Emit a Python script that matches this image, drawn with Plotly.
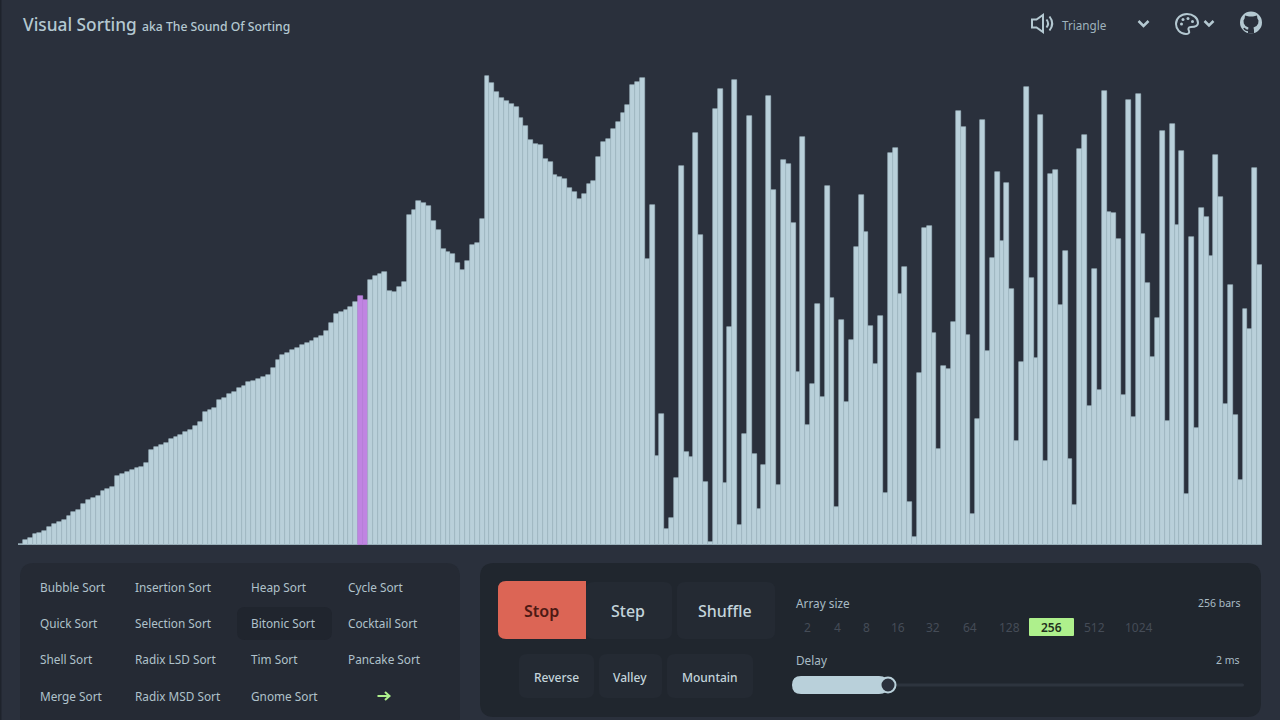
import plotly.graph_objects as go

BAR_VALUES = [
    1, 5, 7, 11, 12, 14, 18, 21, 23, 25,
    29, 33, 35, 41, 45, 47, 49, 54, 56, 58,
    69, 71, 73, 75, 77, 78, 82, 95, 98, 100,
    102, 106, 108, 110, 113, 115, 119, 123, 133, 135,
    137, 145, 147, 151, 153, 157, 159, 163, 164, 166,
    168, 170, 177, 185, 190, 192, 195, 197, 200, 202,
    204, 207, 209, 214, 222, 231, 233, 235, 238, 243,
    249, 245, 265, 269, 271, 273, 254, 253, 258, 263,
    330, 335, 344, 342, 339, 324, 315, 296, 293, 291,
    282, 275, 284, 300, 302, 326, 469, 462, 453, 447,
    444, 441, 438, 427, 419, 405, 401, 400, 386, 383,
    370, 368, 366, 357, 353, 346, 351, 361, 364, 388,
    403, 406, 416, 423, 432, 440, 460, 463, 467, 286,
    340, 89, 131, 16, 27, 67, 379, 93, 88, 412,
    310, 63, 3, 436, 456, 62, 218, 465, 20, 111,
    429, 91, 36, 80, 449, 355, 60, 385, 381, 322,
    173, 408, 120, 161, 241, 148, 359, 247, 38, 225,
    143, 205, 298, 350, 313, 219, 181, 229, 52, 392,
    397, 251, 278, 43, 8, 172, 317, 319, 212, 96,
    179, 176, 223, 434, 418, 210, 31, 126, 425, 194,
    287, 373, 304, 362, 256, 104, 183, 458, 267, 187,
    430, 84, 371, 375, 240, 294, 86, 40, 396, 410,
    139, 276, 155, 454, 333, 332, 306, 150, 445, 128,
    451, 311, 262, 188, 227, 414, 124, 421, 320, 394,
    51, 308, 117, 337, 328, 289, 390, 348, 141, 260,
    130, 65, 236, 216, 377, 280,
]
HIGHLIGHTED = [70, 71]

SORT_COL_1 = ["Bubble Sort", "Quick Sort", "Shell Sort", "Merge Sort"]
SORT_COL_2 = ["Insertion Sort", "Selection Sort", "Radix LSD Sort", "Radix MSD Sort"]
SORT_COL_3 = ["Heap Sort", "Bitonic Sort", "Tim Sort", "Gnome Sort"]
SORT_COL_4 = ["Cycle Sort", "Cocktail Sort", "Pancake Sort"]
ARRAY_SIZES = ["2", "4", "8", "16", "32", "64", "128", "256", "512", "1024"]
ACTIVE_SIZE = "256"

BG = "#2a303c"
PANEL_LEFT = "#252a34"
PANEL_RIGHT = "#20262e"
BTN = "#242a33"
BAR = "#b9d0da"
BAR_EDGE = "#a3bbc6"
PURPLE = "#c084e2"
GREEN = "#aef08c"
RED = "#dc6555"
TEXT = "#b4c8d1"
FONT = "Noto Sans"


def rrect(x0, y0, x1, y1, r=8, color=BTN, r_right=None):
    rr = r if r_right is None else r_right
    path = (
        f"M{x0 + r},{y0} L{x1 - rr},{y0} Q{x1},{y0} {x1},{y0 + rr} "
        f"L{x1},{y1 - rr} Q{x1},{y1} {x1 - rr},{y1} L{x0 + r},{y1} "
        f"Q{x0},{y1} {x0},{y1 - r} L{x0},{y0 + r} Q{x0},{y0} {x0 + r},{y0} Z"
    )
    return dict(type="path", path=path, fillcolor=color, line_width=0,
                xref="x2", yref="y2", layer="above")


def stroke(path, width=2, color=TEXT, fill="rgba(0,0,0,0)"):
    return dict(type="path", path=path, fillcolor=fill, xref="x2", yref="y2",
                line=dict(color=color, width=width), layer="above")


def circle(cx, cy, r, color, line=None, width=0):
    return dict(type="circle", x0=cx - r, x1=cx + r, y0=cy - r, y1=cy + r,
                xref="x2", yref="y2", fillcolor=color, layer="above",
                line=dict(color=line or color, width=width))


def label(x, y, text, size=12.5, color=TEXT, anchor="left", weight=400):
    # annotations carry about 2px of padding on their outer side
    shift = {"left": -2, "right": 2, "center": 0}[anchor]
    return dict(x=x + shift, y=y, xref="x2", yref="y2", text=text, showarrow=False,
                xanchor=anchor, yanchor="middle", align=anchor,
                font=dict(family=FONT, size=size, color=color, weight=weight))


colors = [PURPLE if i in HIGHLIGHTED else BAR for i in range(len(BAR_VALUES))]
edges = [PURPLE if i in HIGHLIGHTED else BAR_EDGE for i in range(len(BAR_VALUES))]

fig = go.Figure()
fig.add_trace(go.Bar(
    x=list(range(len(BAR_VALUES))), y=BAR_VALUES,
    marker=dict(color=colors, line=dict(color=edges, width=0.6)),
    showlegend=False, hoverinfo="skip",
))
# invisible trace so the pixel-sized axes exist
fig.add_trace(go.Scatter(x=[0], y=[0], mode="markers", marker_opacity=0,
                         xaxis="x2", yaxis="y2", showlegend=False, hoverinfo="skip"))

shapes = [
    dict(type="rect", x0=0, x1=1.5, y0=0, y1=720, xref="x2", yref="y2",
         fillcolor="#1e232c", line_width=0, layer="above"),
    rrect(20, 563, 460, 730, r=14, color=PANEL_LEFT),
    rrect(480, 563, 1261, 717, r=14, color=PANEL_RIGHT),
    rrect(237, 607, 332, 640, r=8, color="#20252e"),
    # action buttons
    rrect(586, 582, 672, 639),
    rrect(677, 582, 775, 639),
    rrect(498, 581, 586, 639, r=8, color=RED, r_right=0.1),
    rrect(519, 654, 594, 698),
    rrect(599, 654, 662, 698),
    rrect(667, 654, 753, 698),
    # size picker and delay slider
    rrect(1029, 618, 1074, 636, r=1, color=GREEN),
    rrect(795, 683.5, 1244, 686.5, r=1.5, color="#2d343e"),
    rrect(792, 676, 888, 694, r=9, color=BAR),
    circle(888, 685, 7.5, "#2a303c", line=BAR, width=2),
    # arrow
    stroke("M377.5,696 L389,696 M385,692 L389.5,696 L385,700", 2, GREEN),
    # speaker
    stroke("M1032,19.5 L1036.5,19.5 L1043,15 L1043,32 L1036.5,27.5 L1032,27.5 Z", 2),
    stroke("M1046.5,19.5 C1048.5,22 1048.5,25 1046.5,27.5", 2),
    stroke("M1049.5,16.5 C1053,21 1053,26 1049.5,30.5", 2),
    # chevrons
    stroke("M1138.5,21 L1143.5,26 L1148.5,21", 2.5),
    stroke("M1204.5,21 L1209,25.5 L1213.5,21", 2.5),
    # palette
    stroke("M1187,14 C1193,14 1198,18 1198,23 C1198,27 1194,27 1191,27 "
           "C1188,27 1188,29 1189,31 C1190,33 1188,34 1186,34 "
           "C1180,34 1176,29 1176,24 C1176,18 1181,14 1187,14 Z", 2),
    circle(1181.5, 24, 1.5, TEXT),
    circle(1183, 19.5, 1.5, TEXT),
    circle(1188, 18.5, 1.5, TEXT),
    circle(1192.5, 21.5, 1.5, TEXT),
    # github mark
    circle(1251, 22.5, 11, TEXT),
    dict(type="path", xref="x2", yref="y2", fillcolor=BG, line_width=0, layer="above",
         path="M1249,16.5 L1245,15.5 L1244.6,18.5 L1243.5,20.5 L1243.8,23.5 L1245.5,26 "
              "L1248.5,27.5 L1248,30 L1248,33.5 L1254,33.5 L1254,30 L1253.5,27.5 "
              "L1256.5,26 L1258.2,23.5 L1258.5,20.5 L1257.4,18.5 L1257,15.5 L1253,16.5 Z"),
    stroke("M1244,28 C1245,30.5 1246.5,30.5 1248.5,30.5", 1.6, BG),
]

annotations = [
    label(23, 24, "Visual Sorting", size=17.3, weight=500),
    label(142, 26, "aka The Sound Of Sorting", size=12.2, weight=500),
    label(1062, 24.5, "Triangle", size=11.7, color="#9fb3bd"),
    label(541, 611, "Stop", size=16, color="#4d1a14", anchor="center", weight=600),
    label(628, 611, "Step", size=16, color="#c3d4db", anchor="center", weight=500),
    label(725, 611, "Shuffle", size=16, color="#c3d4db", anchor="center", weight=500),
    label(556, 677, "Reverse", size=12, color="#c3d4db", anchor="center", weight=500),
    label(630, 677, "Valley", size=12, color="#c3d4db", anchor="center", weight=500),
    label(710, 677, "Mountain", size=12, color="#c3d4db", anchor="center", weight=500),
    label(796, 602.5, "Array size", size=11.8, color="#a9bcc5"),
    label(1240, 603, "256 bars", size=10.5, color="#a9bcc5", anchor="right"),
    label(796, 659.5, "Delay", size=11.8, color="#a9bcc5"),
    label(1240, 660, "2 ms", size=10.5, color="#a9bcc5", anchor="right"),
]

row_y = [587, 623, 659, 696]
for col_x, names in zip([40, 135, 251, 348], [SORT_COL_1, SORT_COL_2, SORT_COL_3, SORT_COL_4]):
    for y, name in zip(row_y, names):
        annotations.append(label(col_x, y, name, size=11.8, color="#b0c2cb"))

size_x = [807, 837, 866, 898, 933, 970, 1009, 1051, 1094, 1139]
for x, s in zip(size_x, ARRAY_SIZES):
    active = s == ACTIVE_SIZE
    annotations.append(label(x, 627.5, s, size=12, anchor="center",
                             color="#23301d" if active else "#454c57",
                             weight=600 if active else 400))

fig.update_layout(
    width=1280, height=720,
    margin=dict(l=0, r=0, t=0, b=0),
    paper_bgcolor=BG, plot_bgcolor="rgba(0,0,0,0)",
    bargap=0, showlegend=False,
    shapes=shapes, annotations=annotations,
    xaxis=dict(domain=[18 / 1280, 1262 / 1280], range=[-0.5, 255.5], visible=False, fixedrange=True),
    yaxis=dict(domain=[175 / 720, 670 / 720], range=[0, 495], visible=False, fixedrange=True),
    xaxis2=dict(domain=[0, 1], range=[0, 1280], visible=False, anchor="y2", fixedrange=True),
    yaxis2=dict(domain=[0, 1], range=[720, 0], visible=False, anchor="x2", fixedrange=True),
)

fig.write_html("out.html", config=dict(displayModeBar=False),
               post_script="document.body.style.margin='0';document.body.style.overflow='hidden';")
